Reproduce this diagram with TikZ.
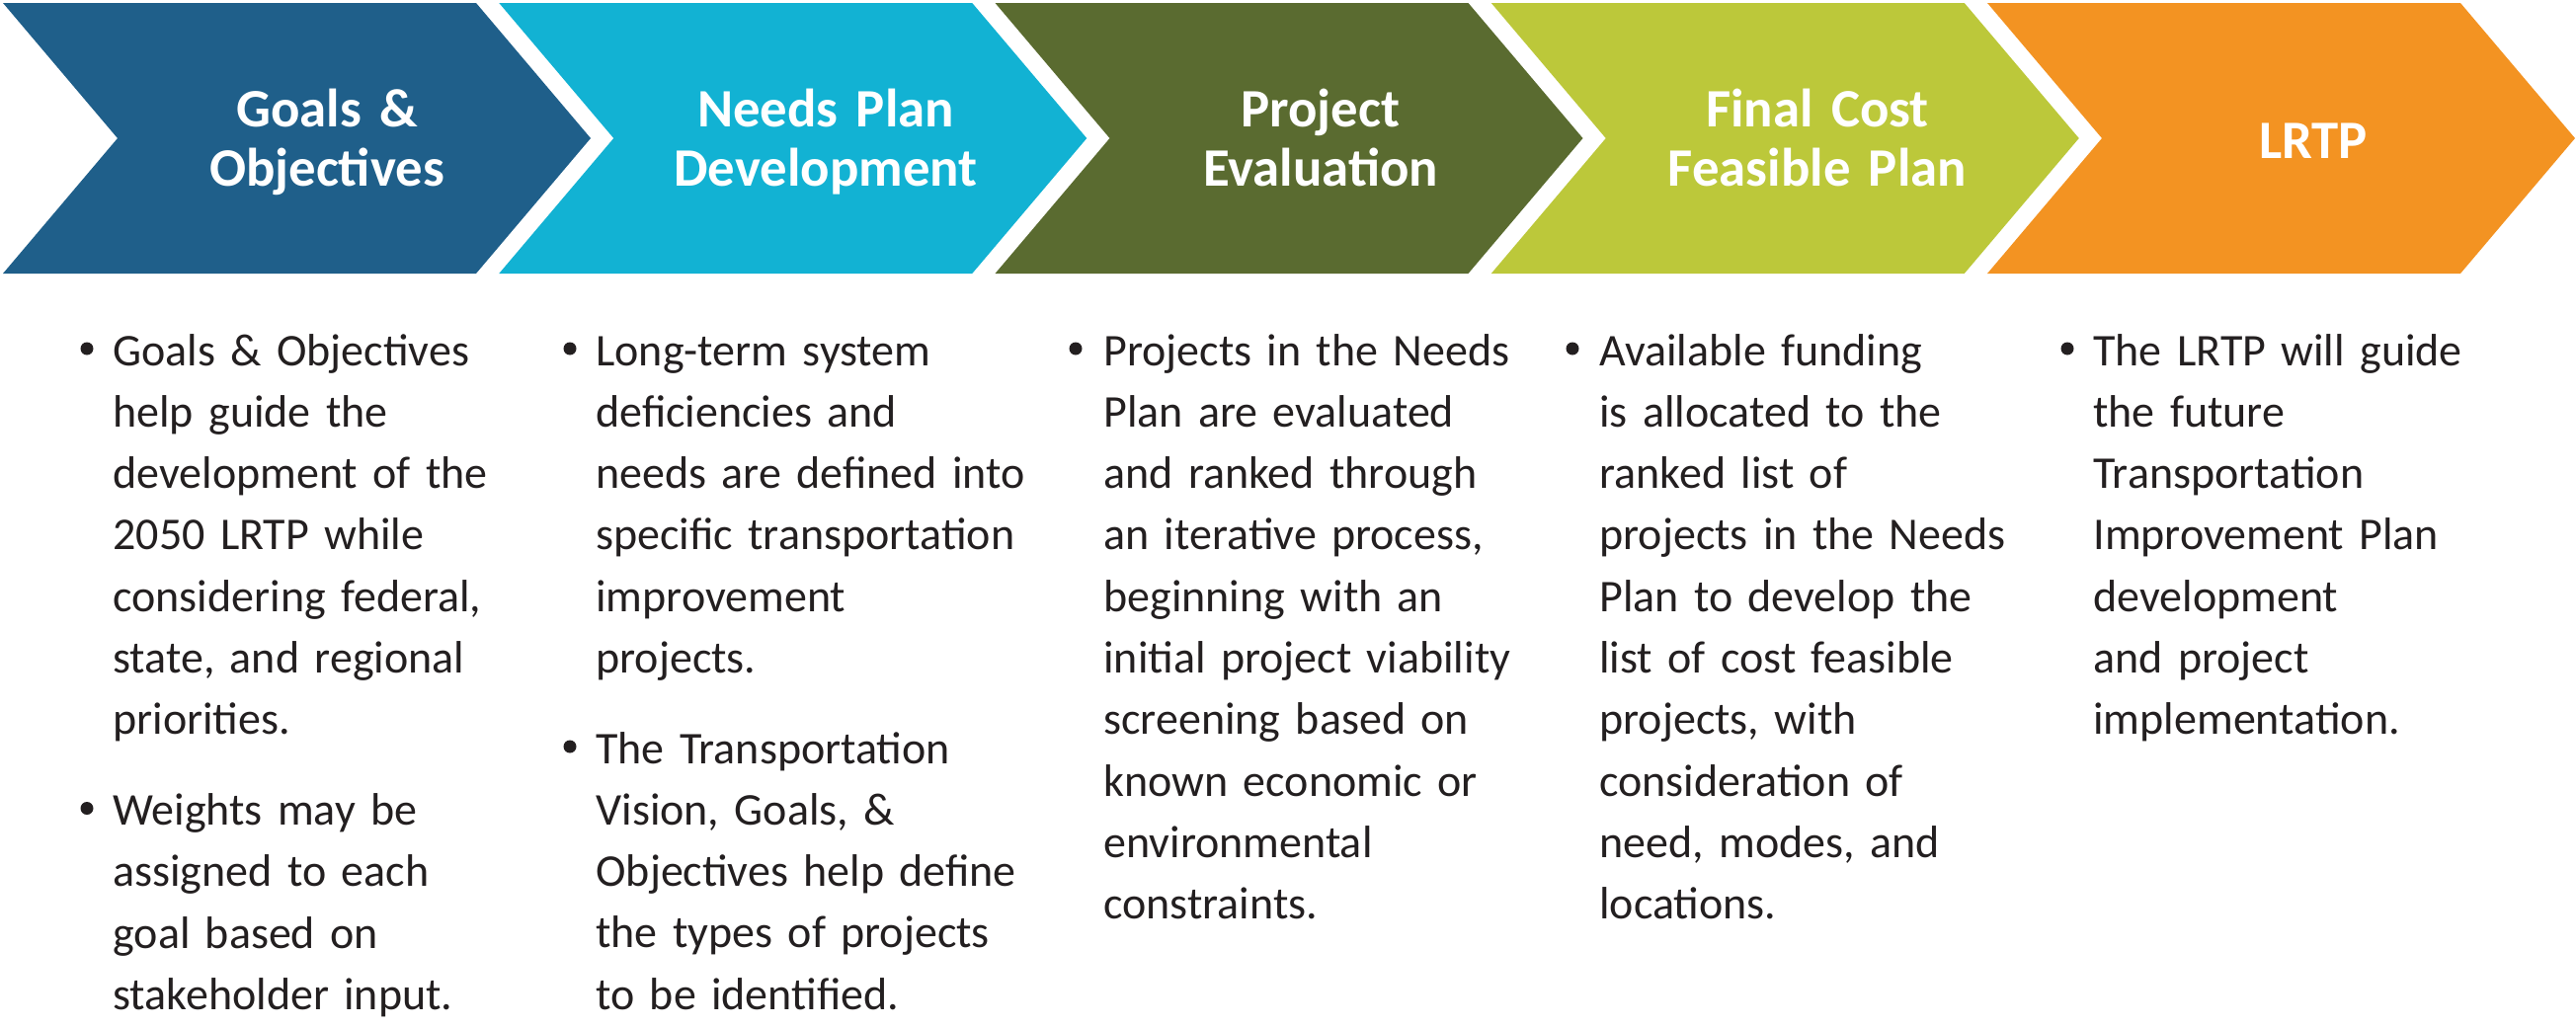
\documentclass[tikz,border=0pt]{standalone}
\usepackage{fontspec}
\setmainfont{Carlito}
\definecolor{cA}{HTML}{1F5F8A}
\definecolor{cB}{HTML}{12B2D3}
\definecolor{cC}{HTML}{5A6B30}
\definecolor{cD}{HTML}{BCC83A}
\definecolor{cE}{HTML}{F39322}
\definecolor{txt}{HTML}{231F20}
\begin{document}
\begin{tikzpicture}[x=0.5pt,y=-0.5pt,
  chev/.style={fill=#1,draw=none},
  ttl/.style={text=white,font=\fontsize{27.4}{30}\selectfont\bfseries,align=center,text width=210pt,anchor=base,inner sep=0pt},
  body/.style={text=txt,font=\fontsize{23}{31.15}\selectfont,align=left,text width=240pt,anchor=base west,inner sep=0pt},
  dot/.style={circle,fill=txt,draw=none,minimum size=6.5pt,inner sep=0pt}]
\useasboundingbox (0,0) rectangle (2608,1039);
% chevrons
\foreach \i/\c in {0/cA,1/cB,2/cC,3/cD,4/cE}{
  \pgfmathsetmacro{\xo}{3+502.25*\i}
  \fill[chev=\c] (\xo,3) -- ++(479,0) -- ++(116,137) -- ++(-116,137) -- ++(-479,0) -- ++(116,-137) -- cycle;
}
% titles
\node[ttl] (t1) at (331,128) {Goals \&\\Objectives};
\node[ttl] (t2) at (836,128) {Needs Plan\\Development};
\node[ttl] (t3) at (1337,128) {Project\\Evaluation};
\node[ttl] (t4) at (1840,128) {Final Cost\\Feasible Plan};
\node[ttl] (t5) at (2342,160) {LRTP};
% column 1
\node[dot] (d11) at (88,353) {};
\node[body] (p11) at (114,370) {Goals \& Objectives\\help guide the\\development of the\\2050 LRTP while\\considering federal,\\state, and regional\\priorities.};
\node[dot] (d12) at (88,818.5) {};
\node[body] (p12) at (114,835.5) {Weights may be\\assigned to each\\goal based on\\stakeholder input.};
% column 2
\node[dot] (d21) at (577,353) {};
\node[body] (p21) at (603,370) {Long-term system\\deficiencies and\\needs are defined into\\specific transportation\\improvement\\projects.};
\node[dot] (d22) at (577,756) {};
\node[body] (p22) at (603,773) {The Transportation\\Vision, Goals, \&\\Objectives help define\\the types of projects\\to be identified.};
% column 3
\node[dot] (d31) at (1089,353) {};
\node[body] (p31) at (1117,370) {Projects in the Needs\\Plan are evaluated\\and ranked through\\an iterative process,\\beginning with an\\initial project viability\\screening based on\\known economic or\\environmental\\constraints.};
% column 4
\node[dot] (d41) at (1592,353) {};
\node[body] (p41) at (1619,370) {Available funding\\is allocated to the\\ranked list of\\projects in the Needs\\Plan to develop the\\list of cost feasible\\projects, with\\consideration of\\need, modes, and\\locations.};
% column 5
\node[dot] (d51) at (2093,353) {};
\node[body] (p51) at (2119,370) {The LRTP will guide\\the future\\Transportation\\Improvement Plan\\development\\and project\\implementation.};
\end{tikzpicture}
\end{document}
